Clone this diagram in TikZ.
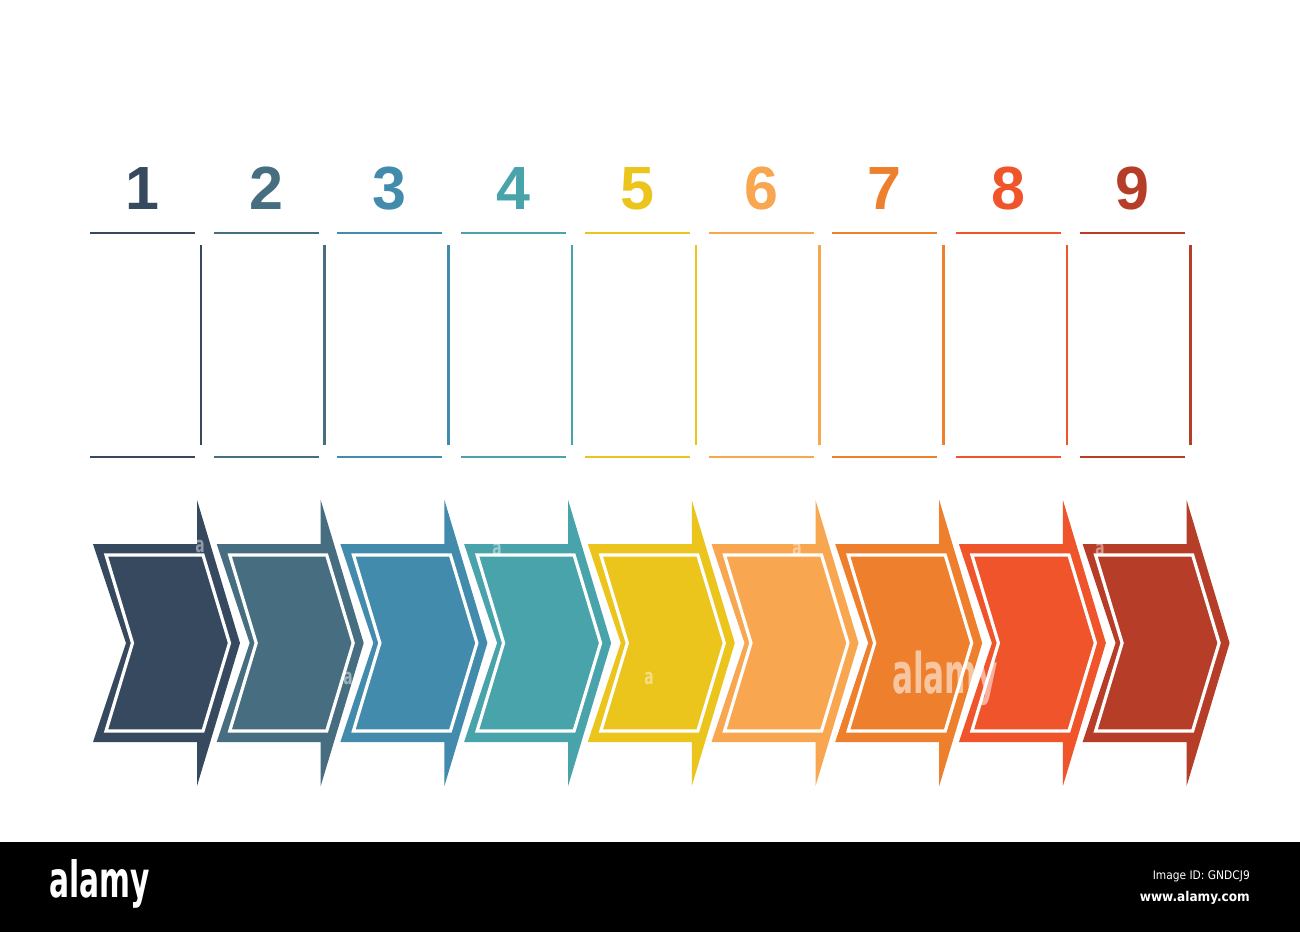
\documentclass[tikz,border=0pt]{standalone}
\usepackage{fontspec}
\setmainfont{Liberation Sans}
\newfontfamily\logofont{DejaVu Sans Condensed}
\definecolor{c1}{HTML}{36495F}
\definecolor{c2}{HTML}{476E80}
\definecolor{c3}{HTML}{428BAD}
\definecolor{c4}{HTML}{49A3AB}
\definecolor{c5}{HTML}{EBC41C}
\definecolor{c6}{HTML}{F8A750}
\definecolor{c7}{HTML}{EE7F2C}
\definecolor{c8}{HTML}{F0542A}
\definecolor{c9}{HTML}{B63E28}
\tikzset{
  boxline/.style={line width=2.6pt},
  innerline/.style={draw=white, line width=3.2pt, line join=miter},
  numlabel/.style={font=\fontsize{61}{61}\selectfont\bfseries, inner sep=0pt},
  wmark/.style={text=white, opacity=0.55, font=\logofont\bfseries, inner sep=0pt},
}
\begin{document}
\begin{tikzpicture}[x=1pt,y=-1pt]
\useasboundingbox (0,0) rectangle (1300,932);
\fill[white] (0,0) rectangle (1300,932);
\foreach \i/\col in {1/c1,2/c2,3/c3,4/c4,5/c5,6/c6,7/c7,8/c8,9/c9}{
  \pgfmathsetmacro\dx{(\i-1)*123.7}
  \begin{scope}[xshift=\dx pt]
    % chevron arrow
    \fill[\col] (93,544) -- (197,544) -- (197,500) -- (240,643) -- (197,786)
      -- (197,742) -- (93,742) -- (126,643) -- cycle;
    \draw[innerline] (106,555) -- (203,555) -- (229.5,643) -- (203,731)
      -- (106,731) -- (132.5,643) -- cycle;
    % open box above
    \draw[\col, boxline] (90,233) -- (195,233);
    \draw[\col, boxline] (201,245) -- (201,445);
    \draw[\col, boxline] (90,457) -- (195,457);
    \node[numlabel, text=\col] (n\i) at (142.5,188.5) {\i};
  \end{scope}
}
% watermarks
\node[wmark, font=\logofont\bfseries\fontsize{56}{56}\selectfont] (wm) at (945,678) {\scalebox{0.62}[1]{alamy}};
\foreach \x/\y [count=\k] in {200/546, 497/549, 348/678, 649/678, 797/549, 1100/549}{
  \node[wmark, font=\logofont\bfseries\fontsize{22}{22}\selectfont, opacity=0.45] (wa\k) at (\x,\y) {\scalebox{0.7}[1]{a}};
}
% bottom bar
\fill[black] (0,842) rectangle (1300,932);
\node[text=white, font=\logofont\bfseries\fontsize{50}{50}\selectfont, inner sep=0pt] (logo) at (100,884) {\scalebox{0.66}[1]{alamy}};
\node[text=white, font=\logofont, inner sep=0pt, anchor=east] (imgid) at (1250,876) {\resizebox{97pt}{!}{Image ID: GNDCJ9}};
\node[text=white, font=\logofont\bfseries, inner sep=0pt, anchor=east] (web) at (1250,898) {\resizebox{110pt}{!}{www.alamy.com}};
\end{tikzpicture}
\end{document}
